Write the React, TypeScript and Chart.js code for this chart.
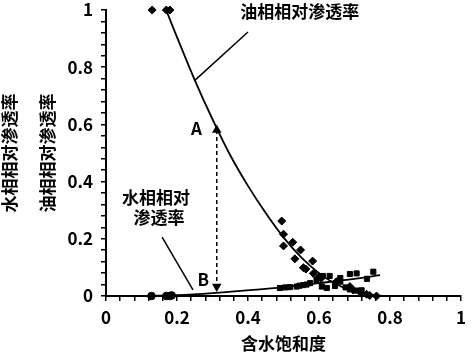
import { useEffect, useRef } from 'react';
import { Chart, registerables } from 'chart.js';

Chart.register(...registerables);

// ---- data ----
const oilPointSw = [0.13, 0.17, 0.18, 0.495, 0.5, 0.5, 0.526, 0.532, 0.548, 0.556, 0.563, 0.582, 0.584, 0.601, 0.606, 0.649, 0.687, 0.696, 0.72, 0.734, 0.743, 0.762];
const oilPointKr = [1.0, 1.0, 1.0, 0.262, 0.216, 0.175, 0.188, 0.13, 0.161, 0.099, 0.094, 0.122, 0.079, 0.067, 0.062, 0.05, 0.033, 0.021, 0.008, 0.006, 0.002, 0.0];

const waterSquareSw = [0.49, 0.505, 0.518, 0.537, 0.545, 0.555, 0.565, 0.575, 0.593, 0.608, 0.611, 0.622, 0.63, 0.645, 0.66, 0.66, 0.675, 0.687, 0.687, 0.706, 0.706, 0.72, 0.735, 0.753];
const waterSquareKr = [0.028, 0.03, 0.031, 0.033, 0.036, 0.038, 0.04, 0.045, 0.056, 0.033, 0.07, 0.028, 0.07, 0.035, 0.063, 0.05, 0.03, 0.077, 0.023, 0.079, 0.019, 0.02, 0.06, 0.085];
const waterCircleSw = [0.128, 0.17, 0.18, 0.185];
const waterCircleKr = [0.0, 0.0, 0.0, 0.002];

const oilCurveSw = [0.171, 0.2, 0.25, 0.3, 0.35, 0.4, 0.45, 0.5, 0.55, 0.6, 0.65, 0.7, 0.75, 0.78];
const oilCurveKr = [0.995, 0.905, 0.755, 0.618, 0.492, 0.385, 0.29, 0.205, 0.135, 0.08, 0.04, 0.015, 0.003, 0.0];

const waterCurveSw = [0.1, 0.2, 0.3, 0.434, 0.5, 0.6, 0.7, 0.772];
const waterCurveKr = [0.0, 0.003, 0.01, 0.023, 0.031, 0.045, 0.06, 0.073];

const arrowSw = [0.312, 0.312];
const arrowKr = [0.58, 0.033];

const oilLeaderSw = [0.4, 0.251];
const oilLeaderKr = [0.923, 0.755];
const waterLeaderSw = [0.158, 0.245];
const waterLeaderKr = [0.206, 0.021];

const xTickLabels = ['0', '0.2', '0.4', '0.6', '0.8', '1'];
const yTickLabels = ['0', '0.2', '0.4', '0.6', '0.8', '1'];

const xTitle = '含水饱和度';
const yTitleLines = ['水相相对渗透率', '油相相对渗透率'];

const labelTexts = ['油相相对渗透率', 'A', 'B', '水相相对', '渗透率'];
const labelSw = [0.546, 0.255, 0.274, 0.141, 0.149];
const labelKr = [0.993, 0.586, 0.056, 0.343, 0.273];

const FONT = '"Noto Sans CJK SC", "Noto Sans", sans-serif';

const zip = (xs: number[], ys: number[]) => xs.map((x, i) => ({ x, y: ys[i] }));

const majorLabel = (labels: string[]) => (v: number | string) => {
  const n = Number(v);
  const k = n * 5;
  if (Math.abs(k - Math.round(k)) < 1e-6) {
    const idx = Math.round(k);
    return labels[idx] ?? '';
  }
  return '';
};

const textPlugin = {
  id: 'textLabels',
  afterDatasetsDraw(chart: any) {
    const { ctx, scales } = chart;
    ctx.save();
    ctx.fillStyle = '#000';
    ctx.font = `bold 17px ${FONT}`;
    ctx.textAlign = 'center';
    ctx.textBaseline = 'middle';
    labelTexts.forEach((t, i) => {
      ctx.fillText(t, scales.x.getPixelForValue(labelSw[i]), scales.y.getPixelForValue(labelKr[i]));
    });
    ctx.restore();
  },
};

export default function App() {
  const ref = useRef<HTMLCanvasElement>(null);
  useEffect(() => {
    document.body.style.margin = '0';
    if (!ref.current) return;
    const lineBase = { showLine: true, pointRadius: 0, borderColor: '#000', backgroundColor: '#000', clip: false };
    const chart = new Chart(ref.current, {
      type: 'scatter',
      data: {
        datasets: [
          { ...lineBase, label: 'oilCurve', data: zip(oilCurveSw, oilCurveKr), borderWidth: 1.8, tension: 0.4 } as any,
          { ...lineBase, label: 'waterCurve', data: zip(waterCurveSw, waterCurveKr), borderWidth: 1.8, tension: 0.4 } as any,
          { ...lineBase, label: 'oilLeader', data: zip(oilLeaderSw, oilLeaderKr), borderWidth: 1.5 },
          { ...lineBase, label: 'waterLeader', data: zip(waterLeaderSw, waterLeaderKr), borderWidth: 1.5 },
          {
            ...lineBase, label: 'arrow', data: zip(arrowSw, arrowKr), borderWidth: 1.5, borderDash: [4, 3],
            pointStyle: 'triangle', pointRadius: 4, pointRotation: [0, 180],
          } as any,
          { label: 'oil', data: zip(oilPointSw, oilPointKr), pointStyle: 'rectRot', pointRadius: 4, borderColor: '#000', backgroundColor: '#000', clip: false },
          { label: 'waterSq', data: zip(waterSquareSw, waterSquareKr), pointStyle: 'rect', pointRadius: 3.6, borderColor: '#000', backgroundColor: '#000', clip: false },
          { label: 'waterCi', data: zip(waterCircleSw, waterCircleKr), pointStyle: 'circle', pointRadius: 3.8, borderColor: '#000', backgroundColor: '#000', clip: false },
        ],
      },
      options: {
        responsive: false,
        animation: false,
        layout: { padding: { left: 0, right: 13, top: 0, bottom: 0 } },
        plugins: { legend: { display: false }, tooltip: { enabled: false } },
        scales: {
          x: {
            type: 'linear', min: 0, max: 1,
            afterFit: (s: any) => { s.height = 59; },
            border: { color: '#000', width: 2 },
            grid: { display: true, drawOnChartArea: false, drawTicks: true, tickLength: 5, color: '#000', lineWidth: 1.5 },
            ticks: {
              stepSize: 0.04, autoSkip: false, maxRotation: 0, padding: 6, color: '#000',
              font: { family: FONT, size: 17, weight: 'bold' },
              callback: majorLabel(xTickLabels),
            },
            title: { display: true, text: xTitle, color: '#000', font: { family: FONT, size: 17, weight: 'bold' }, padding: { top: 0, bottom: 1 } },
          },
          y: {
            type: 'linear', min: 0, max: 1,
            afterFit: (s: any) => { s.width = 106; s.paddingTop = 10; },
            border: { color: '#000', width: 2 },
            grid: { display: true, drawOnChartArea: false, drawTicks: true, tickLength: 5, color: '#000', lineWidth: 1.5 },
            ticks: {
              stepSize: 0.04, autoSkip: false, padding: 8, color: '#000',
              font: { family: FONT, size: 17, weight: 'bold' },
              callback: majorLabel(yTickLabels),
            },
            title: {
              display: true, text: yTitleLines, color: '#000',
              font: { family: FONT, size: 17, weight: 'bold', lineHeight: 2.2 },
              padding: { top: -9, bottom: 0 },
            },
          },
        },
      },
      plugins: [textPlugin],
    });
    return () => chart.destroy();
  }, []);
  return (
    <div style={{ width: 474, height: 355 }}>
      <canvas ref={ref} width={474} height={355} />
    </div>
  );
}
